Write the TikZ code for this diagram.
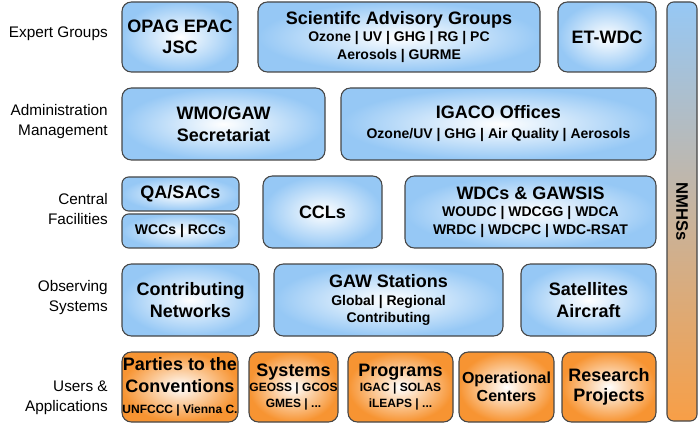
\documentclass[tikz,border=0pt]{standalone}
\usepackage{fontspec}
\setmainfont{Liberation Sans}

\definecolor{gawblue}{RGB}{150,200,245}
\definecolor{gaworange}{RGB}{247,148,50}
\definecolor{gawedge}{RGB}{70,70,70}
\definecolor{nmhsmid}{RGB}{212,178,190}

\tikzset{
    box/.style={draw=gawedge, line width=0.8pt, rounded corners=7pt,
        align=center, inner sep=0pt},
    bluebox/.style={box, inner color=white, outer color=gawblue,
        font=\fontsize{10.5}{13}\selectfont\bfseries},
    orangebox/.style={box, inner color=white, outer color=gaworange,
        font=\fontsize{9}{11.5}\selectfont\bfseries},
    big/.style={font=\fontsize{13.5}{16}\selectfont\bfseries},
    sz/.style 2 args={minimum width=#1*0.75pt, minimum height=#2*0.75pt},
    rowlabel/.style={anchor=east, align=right, inner sep=0pt,
        font=\fontsize{11.5}{15}\selectfont}
}
\newcommand{\ttl}[1]{{\fontsize{13.5}{16}\selectfont #1}}

\begin{document}
\begin{tikzpicture}[x=0.75pt, y=-0.75pt]
    \useasboundingbox (0,0) rectangle (700,424);

    % row labels
    \node[rowlabel] (lexp) at (108,34) {Expert Groups};
    \node[rowlabel] (ladm) at (108,122) {Administration\\Management};
    \node[rowlabel] (lcen) at (108,209) {Central\\Facilities};
    \node[rowlabel] (lobs) at (108,298) {Observing\\Systems};
    \node[rowlabel] (lusr) at (108,398) {Users \&\\Applications};

    % expert groups
    \node[bluebox, big, sz={116}{70}] (opag) at (180,37) {OPAG EPAC\\JSC};
    \node[bluebox, sz={282}{70}] (sag) at (399,37)
        {\ttl{Scientifc Advisory Groups}\\Ozone | UV | GHG | RG | PC\\Aerosols | GURME};
    \node[bluebox, big, sz={98}{70}] (etwdc) at (607,37) {ET-WDC};

    % administration
    \node[bluebox, big, sz={203}{72}] (wmo) at (223.5,124) {WMO/GAW\\Secretariat};
    \node[bluebox, sz={315}{72}] (igaco) at (498.5,124)
        {\ttl{IGACO Offices}\\[2pt]Ozone/UV | GHG | Air Quality | Aerosols};

    % central facilities
    \node[bluebox, big, sz={117}{34}, rounded corners=5pt] (qasac) at (180.5,194) {QA/SACs};
    \node[bluebox, sz={117}{34}, rounded corners=5pt] (wcc) at (180.5,231) {WCCs | RCCs};
    \node[bluebox, big, sz={119}{72}] (ccl) at (322.5,212) {CCLs};
    \node[bluebox, sz={251}{72}] (wdc) at (530.5,212)
        {\ttl{WDCs \& GAWSIS}\\WOUDC | WDCGG | WDCA\\WRDC | WDCPC | WDC-RSAT};

    % observing systems
    \node[bluebox, big, sz={137}{72}] (contrib) at (190.5,300) {Contributing\\Networks};
    \node[bluebox, sz={229}{72}] (gawst) at (388.5,300)
        {\ttl{GAW Stations}\\Global | Regional\\Contributing};
    \node[bluebox, big, sz={135}{72}] (sat) at (588.5,300) {Satellites\\Aircraft};

    % users and applications
    \node[orangebox, sz={116}{70}] (parties) at (180,387)
        {\ttl{Parties to the}\\[4.8pt]\ttl{Conventions}\\[4pt]UNFCCC | Vienna C.};
    \node[orangebox, sz={89}{70}] (systems) at (293.5,387)
        {\ttl{Systems}\\GEOSS | GCOS\\GMES | ...};
    \node[orangebox, sz={105}{70}] (programs) at (400.5,387)
        {\ttl{Programs}\\IGAC | SOLAS\\iLEAPS | ...};
    \node[orangebox, sz={95}{70}, font=\fontsize{12}{13.5}\selectfont\bfseries] (oper) at (506.5,387)
        {Operational\\Centers};
    \node[orangebox, sz={94}{70}, font=\fontsize{13.5}{15}\selectfont\bfseries] (research) at (609,387)
        {Research\\Projects};

    % national services
    \node[box, sz={30}{419}, rounded corners=5pt, top color=gawblue, middle color=nmhsmid,
        bottom color=gaworange!90!white, font=\fontsize{12.5}{15}\selectfont\bfseries]
        (nmhs) at (682,211.5) {\rotatebox{-90}{NMHSs}};
\end{tikzpicture}
\end{document}
